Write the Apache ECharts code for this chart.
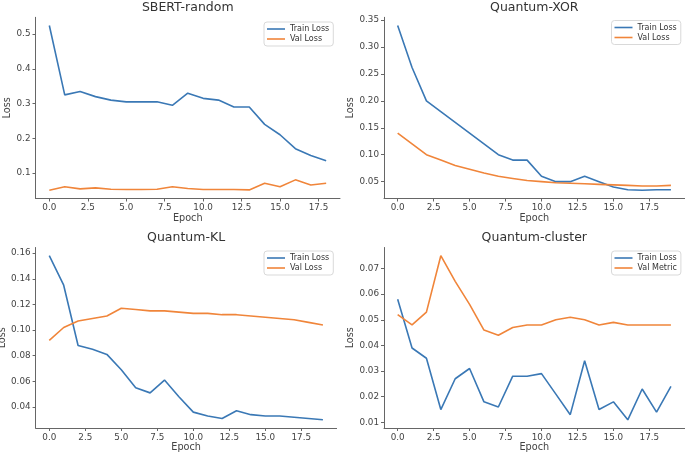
<!DOCTYPE html>
<html>
<head>
<meta charset="utf-8">
<script src="https://cdn.jsdelivr.net/npm/echarts@6/dist/echarts.min.js"></script>
<style>
  html, body { margin: 0; padding: 0; background: #fff; }
  #chart { width: 685px; height: 461px; }
</style>
</head>
<body>
<div id="chart"></div>
<script>
// epochs
const epochs19 = [0, 1, 2, 3, 4, 5, 6, 7, 8, 9, 10, 11, 12, 13, 14, 15, 16, 17, 18];
const epochs20 = [0, 1, 2, 3, 4, 5, 6, 7, 8, 9, 10, 11, 12, 13, 14, 15, 16, 17, 18, 19];
const xTicks = [0, 2.5, 5, 7.5, 10, 12.5, 15, 17.5];

// SBERT-random
const sbertTrain = [0.525, 0.325, 0.335, 0.32, 0.31, 0.305, 0.305, 0.305, 0.295, 0.33, 0.315, 0.31, 0.29, 0.29, 0.24, 0.21, 0.17, 0.15, 0.135];
const sbertVal = [0.05, 0.06, 0.054, 0.057, 0.053, 0.052, 0.052, 0.053, 0.06, 0.055, 0.052, 0.052, 0.052, 0.051, 0.07, 0.06, 0.08, 0.065, 0.07];
const sbertTicks = [0.1, 0.2, 0.3, 0.4, 0.5];

// Quantum-XOR
const xorTrain = [0.34, 0.262, 0.2, 0.18, 0.16, 0.14, 0.12, 0.1, 0.09, 0.09, 0.06, 0.05, 0.05, 0.06, 0.05, 0.04, 0.035, 0.034, 0.035, 0.035];
const xorVal = [0.14, 0.12, 0.1, 0.09, 0.08, 0.073, 0.066, 0.06, 0.056, 0.052, 0.05, 0.048, 0.047, 0.046, 0.045, 0.044, 0.043, 0.042, 0.042, 0.043];
const xorTicks = [0.05, 0.10, 0.15, 0.20, 0.25, 0.30, 0.35];

// Quantum-KL
const klTrain = [0.158, 0.135, 0.088, 0.085, 0.081, 0.069, 0.055, 0.051, 0.061, 0.048, 0.036, 0.033, 0.031, 0.037, 0.034, 0.033, 0.033, 0.032, 0.031, 0.030];
const klVal = [0.092, 0.102, 0.107, 0.109, 0.111, 0.117, 0.116, 0.115, 0.115, 0.114, 0.113, 0.113, 0.112, 0.112, 0.111, 0.110, 0.109, 0.108, 0.106, 0.104];
const klTicks = [0.04, 0.06, 0.08, 0.10, 0.12, 0.14, 0.16];

// Quantum-cluster
const clusterTrain = [0.058, 0.039, 0.035, 0.015, 0.027, 0.031, 0.018, 0.016, 0.028, 0.028, 0.029, 0.021, 0.013, 0.034, 0.015, 0.018, 0.011, 0.023, 0.014, 0.024];
const clusterVal = [0.052, 0.048, 0.053, 0.075, 0.065, 0.056, 0.046, 0.044, 0.047, 0.048, 0.048, 0.050, 0.051, 0.050, 0.048, 0.049, 0.048, 0.048, 0.048, 0.048];
const clusterTicks = [0.01, 0.02, 0.03, 0.04, 0.05, 0.06, 0.07];

const BLUE = '#3a78b5';
const ORANGE = '#f0853a';
const FONT = 'DejaVu Sans';

const panels = [
  { title: 'SBERT-random', x: epochs19, train: sbertTrain, val: sbertVal, valName: 'Val Loss', ticks: sbertTicks, dec: 1,
    box: { left: 35.5, top: 17.3, width: 304.5, height: 181.2 }, titleTop: 1, nameGap: 17.5, legend: { left: 264, top: 22 } },
  { title: 'Quantum-XOR', x: epochs20, train: xorTrain, val: xorVal, valName: 'Val Loss', ticks: xorTicks, dec: 2,
    box: { left: 384, top: 17.3, width: 300.6, height: 181.2 }, titleTop: 1, nameGap: 27, legend: { left: 611.5, top: 20.5 } },
  { title: 'Quantum-KL', x: epochs20, train: klTrain, val: klVal, valName: 'Val Loss', ticks: klTicks, dec: 2,
    box: { left: 35.6, top: 247.5, width: 301, height: 180.5 }, titleTop: 231, nameGap: 27, legend: { left: 264, top: 251 } },
  { title: 'Quantum-cluster', x: epochs20, train: clusterTrain, val: clusterVal, valName: 'Val Metric', ticks: clusterTicks, dec: 2,
    box: { left: 384, top: 247.5, width: 300.6, height: 180.5 }, titleTop: 231, nameGap: 27, legend: { left: 611.5, top: 251 } },
];

// matplotlib-style 5% margins
function pad(lo, hi) {
  const m = (hi - lo) * 0.05;
  return [lo - m, hi + m];
}

const grid = [], xAxis = [], yAxis = [], series = [], title = [], legend = [];

panels.forEach((p, i) => {
  grid.push({ ...p.box, outerBoundsMode: 'none', containLabel: false });
  const all = p.train.concat(p.val);
  const [ymin, ymax] = pad(Math.min(...all), Math.max(...all));
  const [xmin, xmax] = pad(p.x[0], p.x[p.x.length - 1]);

  title.push({
    text: p.title,
    left: p.box.left + p.box.width / 2,
    top: p.titleTop,
    textAlign: 'center',
    padding: 0,
    textStyle: { fontFamily: FONT, fontSize: 12.5, fontWeight: 'normal', color: '#333' },
  });

  xAxis.push({
    gridIndex: i,
    type: 'value',
    min: xmin,
    max: xmax,
    name: 'Epoch',
    nameLocation: 'middle',
    nameGap: 14.5,
    nameTextStyle: { fontFamily: FONT, fontSize: 9.7, color: '#444' },
    axisLine: { show: true, onZero: false, lineStyle: { color: '#666', width: 1 } },
    axisTick: { show: true, length: 3, customValues: xTicks, lineStyle: { color: '#666' } },
    axisLabel: {
      customValues: xTicks,
      margin: 5,
      fontFamily: FONT,
      fontSize: 8.8,
      color: '#444',
      formatter: (v) => v.toFixed(1),
    },
    splitLine: { show: false },
  });

  yAxis.push({
    gridIndex: i,
    type: 'value',
    min: ymin,
    max: ymax,
    name: 'Loss',
    nameLocation: 'middle',
    nameRotate: 90,
    nameGap: p.nameGap,
    nameTextStyle: { fontFamily: FONT, fontSize: 9.7, color: '#444' },
    axisLine: { show: true, onZero: false, lineStyle: { color: '#666', width: 1 } },
    axisTick: { show: true, length: 3, customValues: p.ticks, lineStyle: { color: '#666' } },
    axisLabel: {
      customValues: p.ticks,
      margin: 5,
      fontFamily: FONT,
      fontSize: 8.8,
      color: '#444',
      formatter: (v) => v.toFixed(p.dec),
    },
    splitLine: { show: false },
  });

  const line = (name, vals, color) => ({
    name,
    type: 'line',
    xAxisIndex: i,
    yAxisIndex: i,
    data: p.x.map((e, k) => [e, vals[k]]),
    showSymbol: false,
    symbol: 'none',
    lineStyle: { color, width: 1.6 },
    itemStyle: { color },
    silent: true,
  });
  series.push(line('Train Loss', p.train, BLUE));
  series.push(line(p.valName, p.val, ORANGE));

  legend.push({
    data: ['Train Loss', p.valName],
    left: p.legend.left,
    top: p.legend.top,
    orient: 'vertical',
    icon: 'rect',
    itemWidth: 18,
    itemHeight: 1.6,
    itemGap: 2,
    padding: [3, 4, 3, 3],
    backgroundColor: '#fff',
    borderColor: '#d9d9d9',
    borderWidth: 1,
    borderRadius: 3,
    textStyle: { fontFamily: FONT, fontSize: 8, color: '#333' },
    selectedMode: false,
  });
});

const chart = echarts.init(document.getElementById('chart'));
chart.setOption({
  animation: false,
  backgroundColor: '#fff',
  title,
  legend,
  grid,
  xAxis,
  yAxis,
  series,
});
</script>
</body>
</html>
